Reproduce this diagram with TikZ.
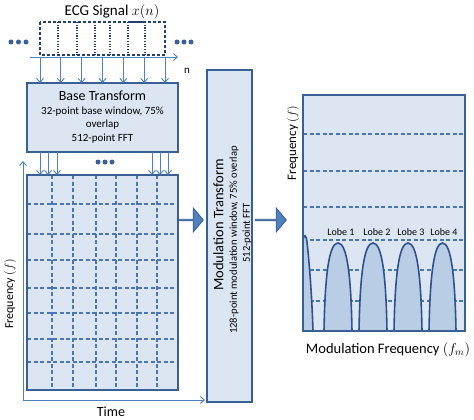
\documentclass[tikz,border=0pt]{standalone}
\usepackage{fontspec}
\setmainfont{Carlito}
\usetikzlibrary{arrows.meta,shapes.arrows}
\definecolor{boxfill}{HTML}{DCE6F2}
\definecolor{boxline}{HTML}{3A5F95}
\definecolor{dashc}{HTML}{4A76B4}
\definecolor{arrc}{HTML}{4F81BD}
\definecolor{lobefill}{HTML}{B9CDE5}
\definecolor{lobeline}{HTML}{2F528F}
\definecolor{navy}{HTML}{24406E}
\definecolor{dotc}{HTML}{3A5F9A}
\tikzset{
  panel/.style={draw=boxline, fill=boxfill, line width=1.4pt, anchor=north west, inner sep=0pt, outer sep=0pt},
  griddash/.style={draw=dashc, line width=1.1pt, dash pattern=on 4pt off 2.5pt},
  thinarrow/.style={draw=arrc, line width=0.9pt, -{Straight Barb[length=4pt,width=7pt]}},
  blockarrow/.style={single arrow, draw=boxline, fill=arrc, line width=0.8pt, minimum width=24pt, single arrow head extend=6pt, single arrow tip angle=100, inner sep=0pt},
  lobe/.style={draw=lobeline, fill=lobefill, line width=1.6pt},
  dotnode/.style={circle, fill=dotc, inner sep=0pt, minimum size=5pt},
  f15/.style={font=\fontsize{15}{17}\selectfont},
  f145/.style={font=\fontsize{14.5}{16}\selectfont},
  f14/.style={font=\fontsize{14}{16}\selectfont},
  f13/.style={font=\fontsize{13}{15}\selectfont},
  f12/.style={font=\fontsize{12}{14}\selectfont},
  f11/.style={font=\fontsize{11}{13}\selectfont},
  f106/.style={font=\fontsize{10.6}{12}\selectfont},
  f10/.style={font=\fontsize{10}{12}\selectfont},
}
\begin{document}
\begin{tikzpicture}[x=1pt,y=-1pt]
\useasboundingbox (0,0) rectangle (474,420);
\fill[white] (0,0) rectangle (474,420);

% ECG signal
\node[f15] (ecgt) at (112,12) {ECG Signal $x(n)$};
\draw[navy, line width=1.2pt, dash pattern=on 3pt off 2pt] (40,22) rectangle (165,55);
\foreach \x in {58,77,95,110,128,145}
  \draw[navy, line width=1.1pt, dash pattern=on 1.2pt off 1.5pt] (\x,22) -- (\x,55);
\draw[navy, line width=1.6pt] (128,22) -- (145,22);
\foreach \x/\n in {11/l1,18.5/l2,26/l3,177/r1,184/r2,191/r3}
  \node[dotnode] (d\n) at (\x,42) {};
\coordinate (nax0) at (30,57);
\coordinate (nax1) at (178,57);
\draw[thinarrow] (nax0) -- (nax1);
\node[f11] (nlab) at (187,71) {n};

% Base transform
\node[panel, minimum width=151pt, minimum height=69pt] (base) at (27,83) {};
\node[f14] (bt1) at (102.5,96) {Base Transform};
\node[f11] (bt2) at (102.5,112) {32-point base window, 75\%};
\node[f11] (bt3) at (102.5,125) {overlap};
\node[f11] (bt4) at (102.5,139) {512-point FFT};
\foreach \x in {40,60.8,81.7,102.5,123.3,144.2,165}
  \draw[thinarrow] (\x,57) -- (\x,83);

% grid
\node[panel, line width=1.8pt, minimum width=151pt, minimum height=215pt] (grid) at (27,175) {};
\foreach \x in {52,73,96,116,137,157}
  \draw[griddash] (\x,175) -- (\x,390);
\foreach \y in {204,234,260,288,313,339,362}
  \draw[griddash] (27,\y) -- (178,\y);
\draw[boxline, line width=1.8pt] (27,175) rectangle (178,390);
\foreach \x in {40,48,57,152,160,168}
  \draw[thinarrow] (\x,152) -- (\x,175);
\foreach \x/\n in {98/1,105/2,112/3}
  \node[dotnode] (m\n) at (\x,162) {};
\coordinate (org) at (23,400);
\coordinate (yax) at (23,161);
\coordinate (xax) at (205,400);
\draw[thinarrow] (org) -- (yax);
\draw[thinarrow] (org) -- (xax);
\node[f12, rotate=90] (flab) at (10,294) {Frequency $(f)$};
\node[f14] (tlab) at (111,412) {Time};

% modulation transform
\node[panel, minimum width=45pt, minimum height=332pt] (mod) at (207,70) {};
\node[f145, rotate=90] (mt1) at (218.5,225) {Modulation Transform};
\node[f106, rotate=90] (mt2) at (234,240) {128-point modulation window, 75\% overlap};
\node[f106, rotate=90] (mt3) at (247,233) {512-point FFT};

\node[blockarrow, minimum height=26pt] (ba1) at (190,220) {};
\node[blockarrow, minimum height=31pt] (ba2) at (270.5,220) {};

% right plot
\node[panel, line width=1.8pt, minimum width=162pt, minimum height=236pt] (plot) at (303,95) {};
\foreach \y in {134,171,207,240,270,301}
  \draw[griddash] (303,\y) -- (465,\y);
\filldraw[lobe] (303,331) -- (303,240) .. controls (304,234) and (306,234) .. (307,242) .. controls (310,270) and (312,300) .. (313,331) -- cycle;
\foreach \a/\b in {324/352,359/387,394/422,429/456}{
  \filldraw[lobe] (\a,331) .. controls (\a+1,275) and (\a+5,243) .. ({(\a+\b)/2},243)
     .. controls (\b-5,243) and (\b-1,275) .. (\b,331) -- cycle;
}
\draw[boxline, line width=1.8pt] (303,95) rectangle (465,331);
\foreach \x/\n in {341/1,377/2,411/3,444/4}
  \node[f10] (lobe\n) at (\x,232) {Lobe \n};
\node[f13, rotate=90] (frlab) at (293,143) {Frequency $(f)$};
\node[f145] (mflab) at (388,350) {Modulation Frequency $(f_m)$};
\end{tikzpicture}
\end{document}
